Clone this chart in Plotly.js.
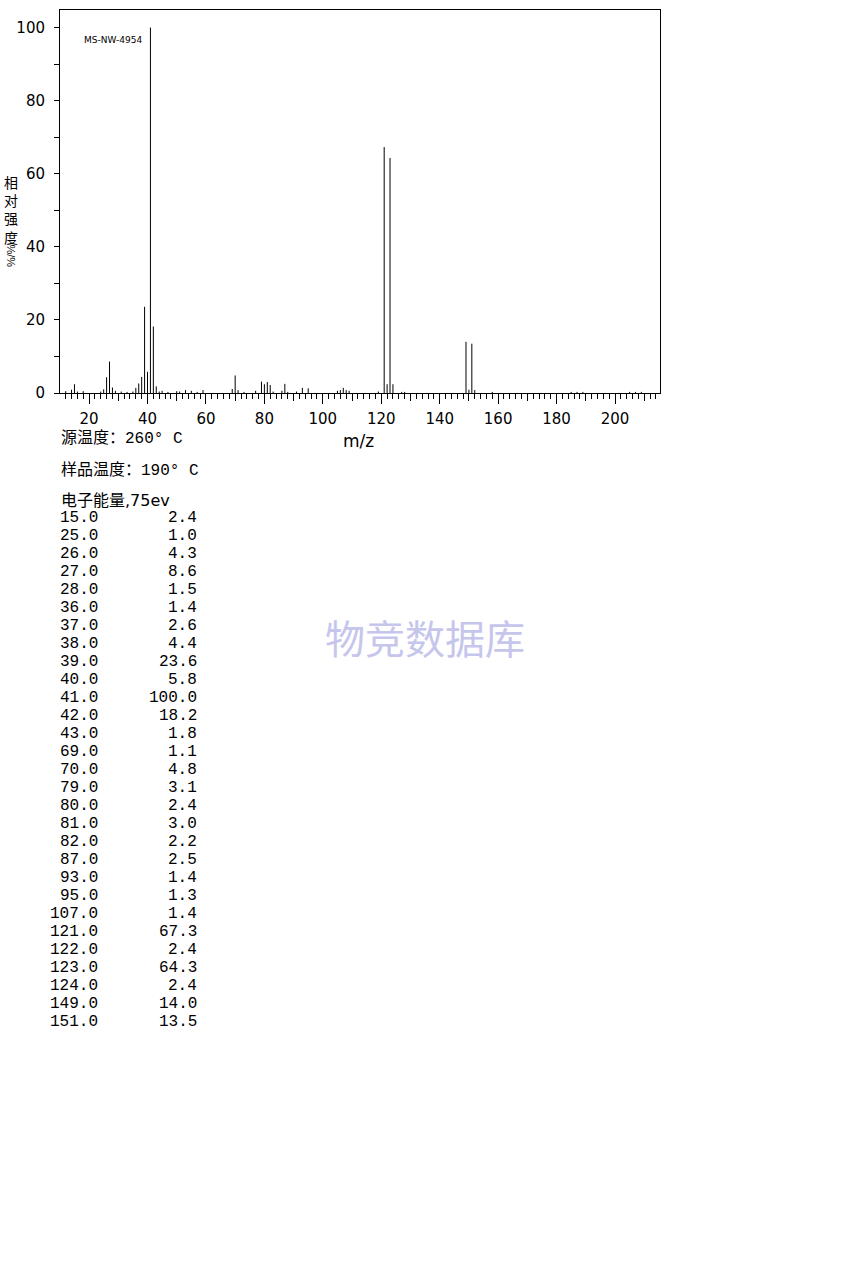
<!DOCTYPE html>
<html>
<head>
<meta charset="utf-8">
<script src="https://cdn.plot.ly/plotly-3.0.1.min.js"></script>
<style>
  html, body { margin: 0; padding: 0; background: #fff; }
  #chart { width: 850px; height: 1276px; }
</style>
</head>
<body>
<div id="chart"></div>
<script>
// ---- Data ----
// Listed peaks (table)
const peakMz  = [15, 25, 26, 27, 28, 36, 37, 38, 39, 40, 41, 42, 43, 69, 70, 79, 80, 81, 82, 87, 93, 95, 107, 121, 122, 123, 124, 149, 151];
const peakInt = [2.4, 1.0, 4.3, 8.6, 1.5, 1.4, 2.6, 4.4, 23.6, 5.8, 100.0, 18.2, 1.8, 1.1, 4.8, 3.1, 2.4, 3.0, 2.2, 2.5, 1.4, 1.3, 1.4, 67.3, 2.4, 64.3, 2.4, 14.0, 13.5];
// Minor (unlisted) peaks visible on the spectrum
const minorMz  = [12, 14, 16, 18, 24, 29, 31, 33, 35, 44, 45, 47, 50, 51, 53, 55, 57, 59, 71, 73, 77, 83, 86, 88, 91, 105, 106, 108, 109, 119, 127, 128, 150, 152, 158, 185, 187, 189, 205, 207, 209];
const minorInt = [0.5, 0.9, 0.4, 0.5, 0.4, 0.6, 0.4, 0.3, 0.4, 0.4, 0.6, 0.3, 0.5, 0.4, 0.8, 0.6, 0.3, 0.8, 0.8, 0.3, 0.6, 0.4, 0.6, 0.3, 0.4, 0.6, 0.8, 0.8, 0.6, 0.4, 0.3, 0.3, 0.9, 0.8, 0.3, 0.3, 0.3, 0.3, 0.3, 0.3, 0.3];

// Text content
const sampleId = "MS-NW-4954";
const headerLines = ["源温度：260° C", "样品温度：190° C", "电子能量,75ev"];
const tableMzLabels = peakMz.map(v => v.toFixed(1));
const tableIntLabels = peakInt.map(v => v.toFixed(1));
const xTicks = [20, 40, 60, 80, 100, 120, 140, 160, 180, 200];
const yTicks = [0, 20, 40, 60, 80, 100];

// ---- Build stick traces ----
function sticks(mz, inten) {
  const xs = [], ys = [];
  mz.forEach((m, i) => { xs.push(m, m, null); ys.push(0, inten[i], null); });
  return {xs, ys};
}
const allMz = peakMz.concat(minorMz);
const allInt = peakInt.concat(minorInt);
const s = sticks(allMz, allInt);

const traces = [{
  type: 'scatter', mode: 'lines', x: s.xs, y: s.ys,
  line: {color: '#000', width: 1}, hoverinfo: 'skip', showlegend: false, connectgaps: false
}];

// ---- Layout geometry ----
const L = 60, R = 660, T = 10, B = 393;
const W = 850, H = 1276;
const px = x => (x - L) / (R - L);
const py = y => (B - y) / (B - T);

const mono = 'Liberation Mono, Courier New, monospace';
const cjk = 'Noto Sans CJK SC, sans-serif';

const annotations = [];
annotations.push({xref: 'paper', yref: 'paper', x: px(82), y: py(40), xanchor: 'left', yanchor: 'middle',
  text: sampleId, showarrow: false, font: {family: 'DejaVu Sans', size: 9, color: '#000'}});
// y title (stacked)
annotations.push({xref: 'paper', yref: 'paper', x: px(11), y: py(210), xanchor: 'center', yanchor: 'middle',
  text: '相<br>对<br>强<br>度', showarrow: false, font: {family: cjk, size: 14, color: '#000'}});
annotations.push({xref: 'paper', yref: 'paper', x: px(11), y: py(256), xanchor: 'center', yanchor: 'middle',
  text: '%/%', textangle: -90, showarrow: false, font: {family: 'Liberation Sans', size: 11, color: '#000'}});
// x title
annotations.push({xref: 'paper', yref: 'paper', x: px(358), y: py(441), xanchor: 'center', yanchor: 'middle',
  text: 'm/z', showarrow: false, font: {family: 'DejaVu Sans', size: 17, color: '#000'}});
// header lines
const headerY = [438, 470, 500];
const headerFonts = [mono + ', ' + cjk, mono + ', ' + cjk, 'DejaVu Sans, ' + cjk];
const headerSizes = [16, 16, 16];
headerLines.forEach((t, i) => annotations.push({xref: 'paper', yref: 'paper', x: px(59), y: py(headerY[i]),
  xanchor: 'left', yanchor: 'middle', text: t, showarrow: false,
  font: {family: headerFonts[i], size: headerSizes[i], color: '#000'}}));
// table rows
tableMzLabels.forEach((t, i) => {
  const yy = 518 + 18 * i;
  annotations.push({xref: 'paper', yref: 'paper', x: px(100), y: py(yy), xanchor: 'right', yanchor: 'middle',
    text: t, showarrow: false, font: {family: mono, size: 16, color: '#000'}});
  annotations.push({xref: 'paper', yref: 'paper', x: px(199), y: py(yy), xanchor: 'right', yanchor: 'middle',
    text: tableIntLabels[i], showarrow: false, font: {family: mono, size: 16, color: '#000'}});
});
// watermark
annotations.push({xref: 'paper', yref: 'paper', x: px(425), y: py(637), xanchor: 'center', yanchor: 'middle',
  text: '物竞数据库', showarrow: false, font: {family: cjk, size: 40, color: 'rgb(198,198,236)'}});

const xRange = [10.05, 215.4];
const tickFont = {family: 'DejaVu Sans', size: 15, color: '#000'};
const layout = {
  width: W, height: H,
  margin: {l: L, r: W - R, t: T, b: H - B, pad: 0},
  paper_bgcolor: '#fff', plot_bgcolor: '#fff',
  showlegend: false,
  xaxis: {
    range: xRange, showgrid: false, zeroline: false,
    showline: true, linecolor: '#000', linewidth: 1, mirror: true,
    ticks: 'outside', ticklen: 10, tickcolor: '#000', tickwidth: 1,
    tickvals: xTicks, ticktext: xTicks.map(String),
    tickfont: tickFont, ticklabelstandoff: 2,
    minor: {dtick: 2, tick0: 0, ticks: 'outside', ticklen: 5, tickcolor: '#000', tickwidth: 1, showgrid: false}
  },
  xaxis2: {
    range: xRange, overlaying: 'x', side: 'bottom', anchor: 'y',
    showgrid: false, zeroline: false, showline: false, showticklabels: false,
    ticks: 'outside', ticklen: 7, tickcolor: '#000', tickwidth: 1, dtick: 10, tick0: 0
  },
  yaxis: {
    range: [0, 104.8], showgrid: false, zeroline: false,
    showline: true, linecolor: '#000', linewidth: 1, mirror: true,
    ticks: 'outside', ticklen: 5, tickcolor: '#000', tickwidth: 1,
    tickvals: yTicks, ticktext: yTicks.map(String),
    tickfont: tickFont, ticklabelstandoff: 6,
    minor: {dtick: 10, tick0: 0, ticks: 'outside', ticklen: 5, tickcolor: '#000', tickwidth: 1, showgrid: false}
  },
  annotations: annotations
};

// empty trace so that xaxis2 renders its ticks
traces.push({type: 'scatter', mode: 'lines', x: [], y: [], xaxis: 'x2', yaxis: 'y', hoverinfo: 'skip', showlegend: false});

Plotly.newPlot('chart', traces, layout, {staticPlot: true, displayModeBar: false});
</script>
</body>
</html>
